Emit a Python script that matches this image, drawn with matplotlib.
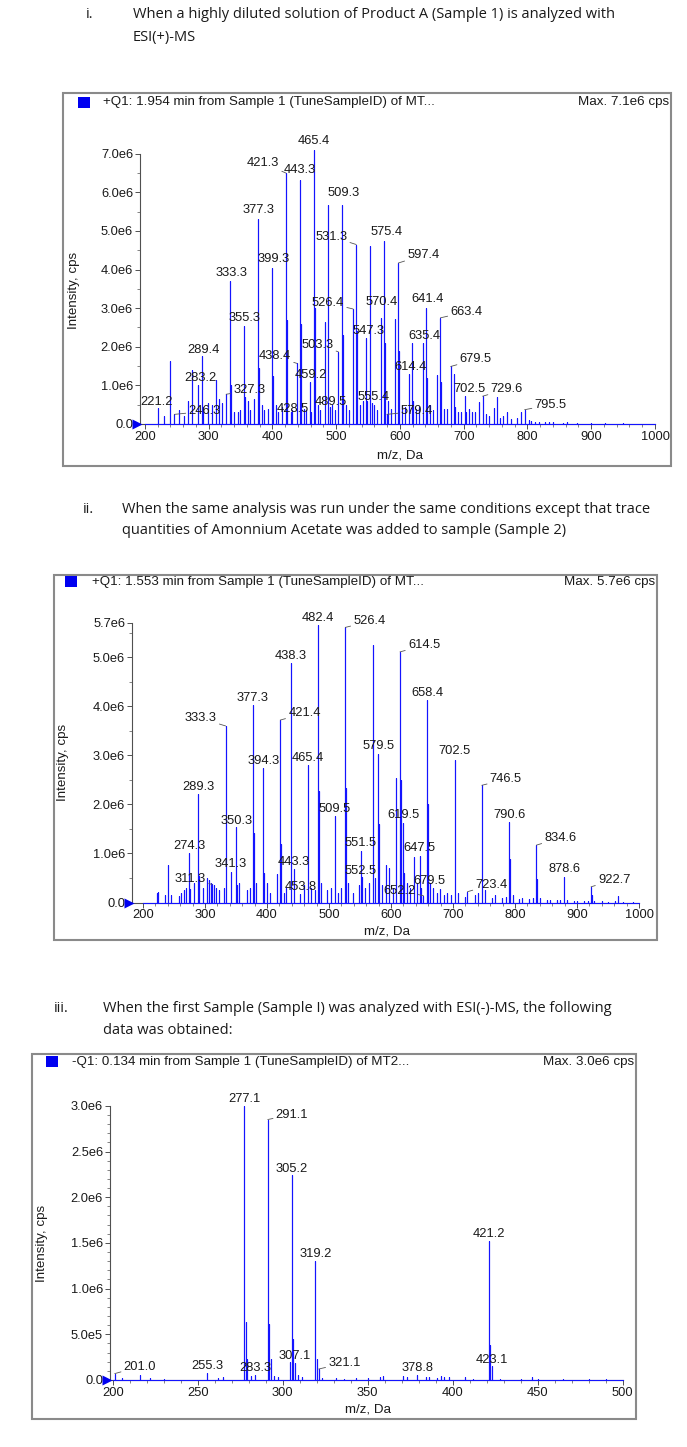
import numpy as np
import matplotlib
matplotlib.use("Agg")
import matplotlib.pyplot as plt
from matplotlib.patches import Rectangle
from matplotlib.ticker import MultipleLocator, FixedLocator, FuncFormatter
import matplotlib.transforms as mtransforms

# ---------------- DATA ----------------
# Panel i : ESI(+) Sample 1  (m/z, intensity in 1e6 cps)
p1_mz = [221.2, 229.2, 239.3, 246.3, 253.2, 261.2, 267.3, 274.3, 283.2, 289.4, 290.4, 298.3,
         305.3, 311.3, 316.3, 321.3, 327.3, 333.3, 334.3, 340.3, 345.3, 349.3, 355.3, 356.3,
         361.3, 365.3, 371.3, 377.3, 378.3, 383.3, 387.3, 393.3, 399.3, 400.3, 405.3, 409.3,
         415.3, 421.3, 422.3, 428.5, 431.3, 438.4, 443.3, 444.3, 449.3, 453.3, 459.2, 460.2,
         465.4, 466.4, 471.3, 475.3, 482.4, 487.3, 489.5, 493.3, 497.3, 503.3, 509.3, 510.3,
         515.3, 519.3, 526.4, 531.3, 532.3, 537.3, 541.3, 547.3, 548.3, 553.4, 555.4, 559.4,
         563.4, 570.4, 575.4, 576.4, 579.4, 581.4, 585.4, 591.4, 592.4, 597.4, 598.4, 603.4,
         607.4, 614.4, 619.4, 620.4, 625.4, 629.4, 635.4, 636.4, 641.4, 642.4, 647.4, 651.4,
         657.4, 658.4, 663.4, 664.4, 669.4, 673.4, 679.5, 680.5, 685.5, 686.5, 691.5, 695.5,
         702.5, 703.5, 707.5, 713.5, 717.5, 723.5, 724.5, 729.6, 730.6, 735.6, 739.6, 747.5,
         751.5, 752.5, 757.6, 761.6, 767.5, 768.5, 773.6, 783.6, 789.5, 790.5, 795.5, 796.5,
         801.6, 805.0, 812.0, 818.0, 827.0, 833.0, 840.0, 855.0, 862.0, 877.0, 900.0, 921.0, 950.0]
p1_int = [0.42, 0.20, 1.63, 0.25, 0.35, 0.20, 0.60, 1.40, 1.00, 1.76, 0.45, 0.55,
          0.50, 1.15, 0.64, 0.55, 0.77, 3.70, 1.00, 0.30, 0.30, 0.35, 2.53, 0.70,
          0.60, 0.35, 0.64, 5.32, 1.45, 0.50, 0.35, 0.40, 4.04, 1.25, 0.50, 0.30,
          0.45, 6.50, 2.70, 0.30, 0.35, 1.57, 6.31, 2.58, 0.40, 0.35, 1.08, 0.30,
          7.10, 3.00, 0.50, 0.35, 2.64, 5.67, 0.45, 0.50, 0.35, 1.87, 5.67, 2.30,
          0.50, 0.35, 2.98, 4.65, 2.40, 0.50, 0.60, 2.24, 0.60, 4.60, 0.55, 0.50,
          0.35, 2.75, 4.74, 2.10, 0.25, 0.60, 0.40, 2.72, 0.80, 4.17, 1.90, 0.50,
          0.45, 1.30, 2.10, 0.60, 0.40, 0.45, 2.10, 0.60, 3.00, 1.20, 0.50, 0.35,
          1.28, 0.40, 2.75, 1.10, 0.40, 0.40, 1.49, 0.50, 1.30, 0.45, 0.30, 0.30,
          0.72, 0.30, 0.40, 0.30, 0.30, 0.57, 0.25, 0.72, 0.30, 0.25, 0.20, 0.42,
          0.70, 0.30, 0.15, 0.20, 0.32, 0.12, 0.12, 0.15, 0.31, 0.12, 0.37, 0.15,
          0.10, 0.08, 0.06, 0.05, 0.05, 0.05, 0.04, 0.03, 0.04, 0.03, 0.02, 0.02, 0.02]
p1_labels = [465.4, 421.3, 443.3, 509.3, 377.3, 531.3, 575.4, 597.4, 399.3, 333.3, 526.4,
             570.4, 641.4, 663.4, 355.3, 547.3, 635.4, 503.3, 289.4, 438.4, 679.5, 614.4,
             459.2, 283.2, 327.3, 702.5, 729.6, 555.4, 489.5, 221.2, 428.5, 246.3, 579.4, 795.5]

# Panel ii : ESI(+) Sample 2 (with ammonium acetate)
p2_mz = [222.0, 225.0, 235.0, 240.3, 246.0, 258.0, 262.0, 266.0, 270.0, 274.3, 275.3, 282.3,
         289.3, 290.3, 297.0, 303.0, 306.0, 309.0, 311.3, 315.0, 318.0, 323.0, 330.0, 333.3,
         334.3, 341.3, 350.3, 351.3, 355.3, 367.0, 372.0, 377.3, 378.3, 383.0, 394.3, 395.3,
         399.3, 405.0, 416.3, 421.4, 422.4, 428.0, 431.0, 438.3, 439.3, 443.3, 444.3, 453.8,
         460.3, 465.4, 466.4, 471.0, 477.0, 482.4, 483.4, 487.0, 496.0, 504.0, 509.5, 510.5,
         515.0, 520.0, 526.4, 527.4, 531.4, 538.0, 548.0, 551.5, 552.5, 558.0, 565.0, 570.5,
         571.5, 575.0, 579.5, 580.5, 586.0, 592.5, 597.5, 603.5, 608.0, 614.5, 615.5, 619.5,
         620.5, 625.5, 630.0, 636.5, 641.5, 647.5, 648.5, 652.2, 658.4, 659.4, 663.0, 667.0,
         674.0, 679.5, 685.0, 690.0, 697.0, 702.5, 703.5, 708.0, 719.0, 723.4, 735.0, 741.0,
         746.5, 747.5, 752.0, 763.0, 768.0, 779.0, 785.0, 790.6, 791.6, 796.0, 807.0, 812.0,
         823.0, 829.0, 834.6, 835.6, 840.0, 851.0, 856.0, 867.0, 873.0, 878.6, 879.6, 884.0,
         895.0, 900.0, 911.0, 917.0, 922.7, 923.7, 928.0, 940.0, 950.0, 961.0, 966.7, 975.0, 990.0]
p2_int = [0.20, 0.22, 0.15, 0.77, 0.15, 0.13, 0.20, 0.25, 0.30, 1.00, 0.28, 0.40,
          2.22, 0.55, 0.30, 0.50, 0.45, 0.40, 0.37, 0.35, 0.30, 0.25, 0.30, 3.60,
          0.90, 0.62, 1.53, 0.35, 0.40, 0.25, 0.30, 4.03, 1.42, 0.40, 2.75, 0.60,
          0.40, 0.20, 0.59, 3.72, 1.20, 0.20, 0.30, 4.88, 1.80, 0.68, 0.50, 0.17,
          0.35, 2.81, 0.95, 0.30, 0.25, 5.65, 2.27, 0.40, 0.25, 0.30, 1.76, 0.54,
          0.20, 0.30, 5.61, 2.34, 0.40, 0.20, 0.35, 1.05, 0.51, 0.30, 0.40, 5.26,
          2.53, 0.50, 3.02, 1.60, 0.35, 0.76, 0.71, 0.30, 2.54, 5.11, 2.49, 1.63,
          0.60, 0.40, 0.30, 0.92, 0.40, 0.95, 0.30, 0.14, 4.12, 2.00, 0.40, 0.30,
          0.20, 0.27, 0.15, 0.20, 0.15, 2.90, 1.39, 0.20, 0.12, 0.22, 0.15, 0.20,
          2.39, 1.17, 0.25, 0.10, 0.15, 0.10, 0.12, 1.64, 0.88, 0.15, 0.08, 0.10,
          0.08, 0.10, 1.17, 0.47, 0.10, 0.05, 0.06, 0.05, 0.05, 0.53, 0.25, 0.05,
          0.04, 0.04, 0.03, 0.04, 0.32, 0.15, 0.03, 0.03, 0.02, 0.03, 0.13, 0.02, 0.02]
p2_labels = [333.3, 421.4, 394.3, 465.4, 579.5, 702.5, 746.5, 289.3, 509.5, 619.5, 790.6,
             350.3, 834.6, 551.5, 647.5, 274.3, 341.3, 443.3, 878.6, 311.3, 552.5, 453.8,
             652.2, 679.5, 723.4, 922.7, 482.4, 526.4, 438.3, 614.5, 658.4, 377.3]

# Panel iii : ESI(-) Sample 1
p3_mz = [201.0, 205.0, 216.0, 222.0, 230.0, 255.3, 262.0, 265.0, 277.1, 278.1, 279.1, 281.0,
         283.3, 291.1, 292.1, 293.1, 295.0, 297.0, 304.2, 305.2, 306.2, 307.1, 309.0, 311.0,
         319.2, 320.2, 321.1, 323.0, 331.0, 336.0, 343.0, 350.0, 357.0, 359.0, 371.0, 373.0,
         378.8, 384.0, 386.0, 391.0, 393.0, 395.0, 398.0, 407.0, 412.0, 421.2, 422.2, 423.1,
         428.0, 440.0, 447.0, 450.0, 465.0, 480.0, 490.0]
p3_int = [0.07, 0.02, 0.06, 0.02, 0.015, 0.08, 0.02, 0.03, 3.00, 0.63, 0.23, 0.04,
          0.06, 2.85, 0.61, 0.23, 0.04, 0.03, 0.20, 2.24, 0.45, 0.19, 0.05, 0.03,
          1.30, 0.23, 0.12, 0.02, 0.02, 0.015, 0.02, 0.02, 0.03, 0.04, 0.04, 0.03,
          0.05, 0.03, 0.03, 0.02, 0.04, 0.03, 0.03, 0.03, 0.015, 1.52, 0.38, 0.15,
          0.015, 0.01, 0.03, 0.01, 0.01, 0.01, 0.01]
p3_labels = [277.1, 291.1, 305.2, 319.2, 421.2, 423.1, 307.1, 321.1, 283.3, 255.3, 201.0, 378.8]

scan1 = (200.0, 1000.0)
scan2 = (200.0, 1000.0)
scan3 = (200.0, 500.0)

headers = ["+Q1: 1.954 min from Sample 1 (TuneSampleID) of MT...",
           "+Q1: 1.553 min from Sample 1 (TuneSampleID) of MT...",
           "-Q1: 0.134 min from Sample 1 (TuneSampleID) of MT2..."]
max_texts = ["Max. 7.1e6 cps", "Max. 5.7e6 cps", "Max. 3.0e6 cps"]
intro = [("i.", ["When a highly diluted solution of Product A (Sample 1) is analyzed with",
                 "ESI(+)-MS"]),
         ("ii.", ["When the same analysis was run under the same conditions except that trace",
                  "quantities of Amonnium Acetate was added to sample (Sample 2)"]),
         ("iii.", ["When the first Sample (Sample I) was analyzed with ESI(-)-MS, the following",
                   "data was obtained:"])]

# ---------------- LAYOUT (pixels) ----------------
W, H = 687, 1447
BLUE = "#1414ff"
TXT = "#1a1a1a"
SANS = ["Liberation Sans", "DejaVu Sans"]
BODY = ["Open Sans", "DejaVu Sans"]
FS_BODY = 10.5
FS_TICK = 9.3
FS_PEAK = 9.3
FS_HEAD = 9.6
FS_AXLAB = 9.6

# label layouts: mode, dx, dy (pixels, dy negative = above peak top)
lay1 = {465.4: ('c', 0, -8.5), 421.3: ('l', -7, -10), 443.3: ('c', 0, -10), 509.3: ('c', 1, -12),
        377.3: ('c', 1, -9), 531.3: ('l', -9, -8), 575.4: ('c', 2, -9), 597.4: ('r', 9, -8),
        399.3: ('c', 2, -9), 333.3: ('c', 2, -8.5), 526.4: ('l', -9, -6), 570.4: ('c', 1, -16),
        641.4: ('c', 1, -9), 663.4: ('r', 10, -6), 355.3: ('c', 1, -8), 547.3: ('c', 2, -7),
        635.4: ('c', 2, -7), 503.3: ('l', -5, -7), 289.4: ('c', 2, -6), 438.4: ('l', -6, -7),
        679.5: ('r', 9, -7), 614.4: ('c', 1, -7), 459.2: ('c', 1, -7), 283.2: ('c', 2, -7),
        327.3: ('r', 7, -4), 702.5: ('c', 4, -7), 729.6: ('r', 8, -7), 555.4: ('c', 2, -6),
        489.5: ('c', 1, -5), 221.2: ('c', -2, -6), 428.5: ('c', 2, -3), 246.3: ('r', 14, -3),
        579.4: ('r', 14, -3), 795.5: ('r', 10, -5)}
lay2 = {333.3: ('l', -9, -7.7), 421.4: ('r', 8, -6.7), 394.3: ('c', 0, -6.7), 465.4: ('c', 0, -6.7),
        579.5: ('c', 0, -8.3), 702.5: ('c', 0, -9), 746.5: ('r', 8, -6), 289.3: ('c', 0, -6.7),
        509.5: ('c', 0, -6.7), 619.5: ('c', 0, -7.3), 790.6: ('c', 0, -6.7), 350.3: ('c', 0, -6.7),
        834.6: ('r', 8, -7.3), 551.5: ('c', 0, -7.7), 647.5: ('c', -1, -7.7), 274.3: ('c', 0, -7.3),
        341.3: ('c', 0, -7.7), 443.3: ('c', 0, -6.7), 878.6: ('c', 1, -7.3), 311.3: ('l', -6, -5),
        552.5: ('c', -1, -6.7), 453.8: ('c', 0, -6.7), 652.2: ('l', -8, -5), 679.5: ('c', -11, -8),
        723.4: ('r', 8, -7), 922.7: ('r', 7, -7), 482.4: ('c', 0, -7), 526.4: ('r', 8, -6),
        438.3: ('c', 0, -6.7), 614.5: ('r', 8, -6.7), 658.4: ('c', 0, -7), 377.3: ('c', 0, -6.7)}
lay3 = {277.1: ('c', 0, -7), 291.1: ('r', 8, -5), 305.2: ('c', 0, -6), 319.2: ('c', 0, -6.7),
        421.2: ('c', 0, -6.7), 423.1: ('c', 0, -6.7), 307.1: ('c', 0, -6.7), 321.1: ('r', 9.6, -6),
        283.3: ('c', 1, -7), 255.3: ('c', 0, -7), 201.0: ('r', 9, -7), 378.8: ('c', 1, -7)}

panels = [
    dict(mz=p1_mz, inten=p1_int, labels=p1_labels, lay=lay1, scan=scan1,
         ax=(140, 655, 148, 424), xlim=(192.2, 1000), ylim=(0, 7.15e6),
         yticks=[0, 1e6, 2e6, 3e6, 4e6, 5e6, 6e6, 7e6], yminor=5e5, xminor=20,
         box=(63, 671, 93, 466), sq=(78, 97, 12, 11), htxt=(103, 102), hright=669,
         ylab=(74, 290), xlab=(400, 455), intro_y=(15, 38), intro_x=(90, 133)),
    dict(mz=p2_mz, inten=p2_int, labels=p2_labels, lay=lay2, scan=scan2,
         ax=(132, 639, 622, 902.5), xlim=(182.3, 1000), ylim=(0, 5.72e6),
         yticks=[0, 1e6, 2e6, 3e6, 4e6, 5e6, 5.7e6], yminor=5e5, xminor=20,
         box=(54, 657, 575, 940), sq=(65, 576, 12, 11), htxt=(92, 582), hright=655,
         ylab=(63, 762), xlab=(387, 931), intro_y=(509, 531), intro_x=(88, 122)),
    dict(mz=p3_mz, inten=p3_int, labels=p3_labels, lay=lay3, scan=scan3,
         ax=(110, 622.5, 1104, 1380), xlim=(198.2, 500), ylim=(0, 3.02e6),
         yticks=[0, 5e5, 1e6, 1.5e6, 2e6, 2.5e6, 3e6], yminor=1e5, xminor=10,
         box=(32, 636, 1054, 1419), sq=(46, 1056, 12, 11), htxt=(72, 1062), hright=634,
         ylab=(42, 1243), xlab=(368, 1410), intro_y=(1008, 1030), intro_x=(61, 103)),
]


def fx(x):
    return x / W


def fy(y):
    return 1 - y / H


def sci(v, pos=None):
    if v == 0:
        return "0.0"
    e = int(np.floor(np.log10(abs(v)) + 1e-9))
    return f"{v / 10 ** e:.1f}e{e}"


fig = plt.figure(figsize=(W / 100, H / 100), dpi=100)
fig.patch.set_facecolor("white")

for idx, (p, (num, lines)) in enumerate(zip(panels, intro)):
    # intro text
    fig.text(fx(p["intro_x"][0]), fy(p["intro_y"][0]), num, family=BODY, fontsize=FS_BODY,
             color=TXT, ha="center", va="center")
    for ln, yy in zip(lines, p["intro_y"]):
        fig.text(fx(p["intro_x"][1]), fy(yy), ln, family=BODY, fontsize=FS_BODY, color=TXT,
                 ha="left", va="center")
    # box
    bx0, bx1, by0, by1 = p["box"]
    fig.add_artist(Rectangle((fx(bx0), fy(by1)), fx(bx1 - bx0), (by1 - by0) / H,
                             transform=fig.transFigure, fill=False, ec="#8a8a8a", lw=1.5))
    sx, sy, sw, sh = p["sq"]
    fig.add_artist(Rectangle((fx(sx), fy(sy + sh)), fx(sw), sh / H, transform=fig.transFigure,
                             fc="#0000f0", ec="none"))
    fig.text(fx(p["htxt"][0]), fy(p["htxt"][1]), headers[idx], family=SANS, fontsize=FS_HEAD,
             color=TXT, ha="left", va="center")
    fig.text(fx(p["hright"]), fy(p["htxt"][1]), max_texts[idx], family=SANS, fontsize=FS_HEAD,
             color=TXT, ha="right", va="center")

    # axes
    L, R, T, B = p["ax"]
    ax = fig.add_axes([fx(L), fy(B), fx(R - L), (B - T) / H])
    ax.set_facecolor("none")
    mz = np.asarray(p["mz"], float)
    it = np.asarray(p["inten"], float) * 1e6
    order = np.argsort(mz)
    mz, it = mz[order], it[order]
    xs = np.concatenate([[p["scan"][0]], np.repeat(mz, 3), [p["scan"][1]]])
    ys = np.concatenate([[0], np.column_stack([np.zeros_like(it), it, np.zeros_like(it)]).ravel(), [0]])
    ax.plot(xs, ys, color=BLUE, lw=0.8, solid_joinstyle="miter", zorder=3, clip_on=False)
    ax.set_xlim(*p["xlim"])
    ax.set_ylim(*p["ylim"])
    for s in ["top", "right"]:
        ax.spines[s].set_visible(False)
    for s in ["left", "bottom"]:
        ax.spines[s].set_color("#505050")
        ax.spines[s].set_linewidth(0.8)
    ax.spines["left"].set_bounds(0, p["yticks"][-1])
    ax.yaxis.set_major_locator(FixedLocator(p["yticks"]))
    ax.yaxis.set_minor_locator(FixedLocator([v for v in np.arange(0, p["yticks"][-1], p["yminor"])
                                             if all(abs(v - t) > 1 for t in p["yticks"])]))
    ax.yaxis.set_major_formatter(FuncFormatter(sci))
    ax.xaxis.set_major_locator(MultipleLocator(100 if idx < 2 else 50))
    ax.xaxis.set_minor_locator(MultipleLocator(p["xminor"]))
    ax.tick_params(axis="both", which="major", labelsize=FS_TICK, length=3.5, width=0.7,
                   color="#505050", labelcolor=TXT, pad=1.5)
    ax.tick_params(axis="both", which="minor", length=2, width=0.6, color="#707070")
    for lab in ax.get_xticklabels() + ax.get_yticklabels():
        lab.set_family(SANS)
    ax.set_xticks([t for t in ax.get_xticks() if p["scan"][0] - 1e-6 <= t <= p["xlim"][1] + 1e-6])

    # triangle at origin
    off = mtransforms.offset_copy(ax.transData, fig=fig, x=-3.0 * 0.72, y=0, units="points")
    ax.plot([p["xlim"][0]], [0], marker=">", ms=6.5, color="#0000f0", transform=off,
            clip_on=False, zorder=5, mec="none")

    # peak labels
    lookup = dict(zip(np.round(mz, 1), it))
    for m in p["labels"]:
        mode, dx, dy = p["lay"][m]
        yv = lookup[round(m, 1)]
        txt = f"{m:.1f}"
        if mode == "c":
            ax.annotate(txt, xy=(m, yv), xytext=(dx, -dy), textcoords="offset pixels",
                        ha="center", va="center", fontsize=FS_PEAK, family=SANS, color=TXT,
                        annotation_clip=False, zorder=6)
        else:
            ha = "right" if mode == "l" else "left"
            ax.annotate(txt, xy=(m, yv), xytext=(dx, -dy), textcoords="offset pixels",
                        ha=ha, va="center", fontsize=FS_PEAK, family=SANS, color=TXT,
                        annotation_clip=False, zorder=6,
                        arrowprops=dict(arrowstyle="-", lw=0.6, color="#555555",
                                        shrinkA=0, shrinkB=0))

    # axis labels
    fig.text(fx(p["ylab"][0]), fy(p["ylab"][1]), "Intensity, cps", rotation=90, family=SANS,
             fontsize=FS_AXLAB, color=TXT, ha="center", va="center")
    fig.text(fx(p["xlab"][0]), fy(p["xlab"][1]), "m/z, Da", family=SANS, fontsize=FS_AXLAB,
             color=TXT, ha="center", va="center")

fig.savefig("out.png", dpi=100, facecolor="white")
